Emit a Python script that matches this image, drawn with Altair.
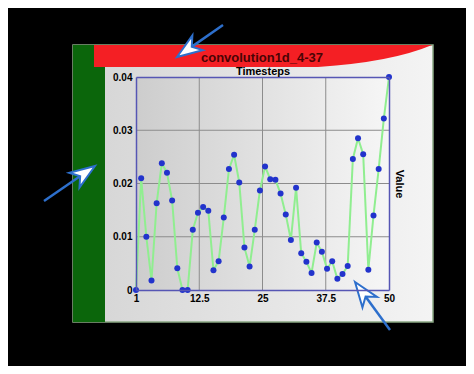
import math
import altair as alt
import pandas as pd

# ---------------- data ----------------
timesteps = list(range(1, 51))
values = [0.0, 0.0210, 0.0100, 0.0018, 0.0163, 0.0238, 0.0220, 0.0168, 0.0041, 0.0,
          0.0, 0.0113, 0.0145, 0.0156, 0.0149, 0.0037, 0.0054, 0.0136, 0.0227, 0.0254,
          0.0202, 0.0080, 0.0044, 0.0113, 0.0187, 0.0232, 0.0208, 0.0207, 0.0181, 0.0142,
          0.0094, 0.0192, 0.0069, 0.0053, 0.0032, 0.0089, 0.0072, 0.0040, 0.0054, 0.0021,
          0.0030, 0.0045, 0.0246, 0.0285, 0.0255, 0.0038, 0.0140, 0.0227, 0.0322, 0.0400]
x_tick_values = [1, 13.25, 25.5, 37.75, 50]
x_tick_labels = ["1", "12.5", "25", "37.5", "50"]
y_tick_values = [0, 0.01, 0.02, 0.03, 0.04]
title_text = "convolution1d_4-37"
x_title = "Timesteps"
y_title = "Value"

df = pd.DataFrame({"t": timesteps, "v": values})

# ---------------- geometry ----------------
W, H = 253, 213
OX, OY = 136, 77          # plot origin on the page
FONT = "Liberation Sans"
PURPLE = "#5656b4"
one = alt.Data(values=[{}])


def rx(px):
    return px - OX


def ry(py):
    return py - OY


label_expr = " : ".join(
    f"datum.value == {v} ? '{l}'" for v, l in zip(x_tick_values, x_tick_labels)
) + " : ''"

xscale = alt.Scale(domain=[1, 50], nice=False, zero=False)
yscale = alt.Scale(domain=[0, 0.04], nice=False)

# panel background
panel_grad = alt.LinearGradient(
    gradient="linear", x1=0, x2=1, y1=0, y2=0,
    stops=[alt.GradientStop(offset=0, color="#d4d4d4"),
           alt.GradientStop(offset=1, color="#f4f4f4")])
panel = alt.Chart(one).mark_rect(fill=panel_grad, stroke="#8aa884", strokeWidth=1.5).encode(
    x=alt.value(rx(73)), x2=alt.value(rx(433)), y=alt.value(ry(45)), y2=alt.value(ry(322)))

green = alt.Chart(one).mark_rect(fill="#0b660b").encode(
    x=alt.value(rx(73)), x2=alt.value(rx(105)), y=alt.value(ry(45)), y2=alt.value(ry(322)))

red_path = (f"M{rx(94)},{ry(45)} L{rx(432)},{ry(45)} "
            f"Q{rx(392)},{ry(62)} {rx(318)},{ry(67)} L{rx(94)},{ry(67)} Z")
red = alt.Chart(one).mark_point(shape=red_path, size=4, filled=True, fill="#f41f24",
                                opacity=1, strokeWidth=0).encode(
    x=alt.value(0), y=alt.value(0))

title = alt.Chart(one).mark_text(text=title_text, font=FONT, fontSize=13, fontWeight="bold",
                                 color="#4a0404", align="center", baseline="middle").encode(
    x=alt.value(rx(262)), y=alt.value(ry(57.5)))

plot_grad = alt.LinearGradient(
    gradient="linear", x1=0, x2=1, y1=0, y2=0,
    stops=[alt.GradientStop(offset=0, color="#cdcdcd"),
           alt.GradientStop(offset=1, color="#f6f6f6")])
plotbg = alt.Chart(one).mark_rect(fill=plot_grad).encode(
    x=alt.value(0), x2=alt.value(W), y=alt.value(0), y2=alt.value(H))

xgrid = alt.Chart(pd.DataFrame({"g": x_tick_values[1:-1]})).mark_rule(
    color="#8c8c8c", strokeWidth=1).encode(x=alt.X("g:Q", scale=xscale, axis=None))
ygrid = alt.Chart(pd.DataFrame({"g": y_tick_values[1:-1]})).mark_rule(
    color="#8c8c8c", strokeWidth=1).encode(y=alt.Y("g:Q", scale=yscale, axis=None))

lab = dict(labelFont=FONT, labelFontSize=10, labelFontWeight="bold", labelColor="black",
           labelFlush=False, ticks=False, grid=False, domainColor=PURPLE, domainWidth=1.5,
           zindex=1)
tit = dict(titleFont=FONT, titleFontSize=11, titleFontWeight="bold", titleColor="black",
           labels=False, ticks=False, grid=False, domainColor=PURPLE, domainWidth=1.5,
           zindex=1)

line = alt.Chart(df).mark_line(color="#90ee90", strokeWidth=2).encode(
    x=alt.X("t:Q", scale=xscale,
            axis=alt.Axis(values=x_tick_values, labelExpr=label_expr, title=None,
                          labelPadding=3, **lab)),
    y=alt.Y("v:Q", scale=yscale,
            axis=alt.Axis(values=y_tick_values, format="~g", title=None,
                          labelPadding=4, **lab)))

points = alt.Chart(df).mark_point(filled=True, color="#2233cc", size=36, opacity=1).encode(
    x=alt.X("t:Q", scale=xscale,
            axis=alt.Axis(orient="top", title=x_title, titlePadding=1, **tit)),
    y=alt.Y("v:Q", scale=yscale,
            axis=alt.Axis(orient="right", title=y_title, titlePadding=4, **tit)))

# decorative arrows (tail, tip) in page coordinates
arrows = [((223, 25), (177, 57)), ((44, 201), (95, 166)), ((390, 330), (355, 282))]
head_path = "M0,0 L9,25 L0,18 L-9,25 Z"
arrow_layers = []
for (tx, ty), (hx, hy) in arrows:
    dx, dy = hx - tx, hy - ty
    n = math.hypot(dx, dy)
    ux, uy = dx / n, dy / n
    ang = math.degrees(math.atan2(dx, -dy)) % 360
    sx, sy = hx - ux * 16, hy - uy * 16
    arrow_layers.append(alt.Chart(one).mark_rule(color="#2d6fcc", strokeWidth=2.5).encode(
        x=alt.value(rx(tx)), y=alt.value(ry(ty)), x2=alt.value(rx(sx)), y2=alt.value(ry(sy))))
    arrow_layers.append(alt.Chart(one).mark_point(shape=head_path, size=4, filled=True,
                                                  fill="white", stroke="#2d6fcc",
                                                  strokeWidth=2, opacity=1, angle=ang).encode(
        x=alt.value(rx(hx)), y=alt.value(ry(hy))))

chart = alt.layer(panel, green, red, title, plotbg, xgrid, ygrid, line, points,
                  *arrow_layers).resolve_axis(x="independent", y="independent").properties(
    width=W, height=H,
    autosize=alt.AutoSizeParams(type="none"),
    padding={"left": OX - 8, "top": OY - 8, "right": 466 - OX - W, "bottom": 366 - OY - H},
    background="black",
).configure_view(stroke=None)

chart.save("out.html", embed_options={"renderer": "svg", "actions": False})
